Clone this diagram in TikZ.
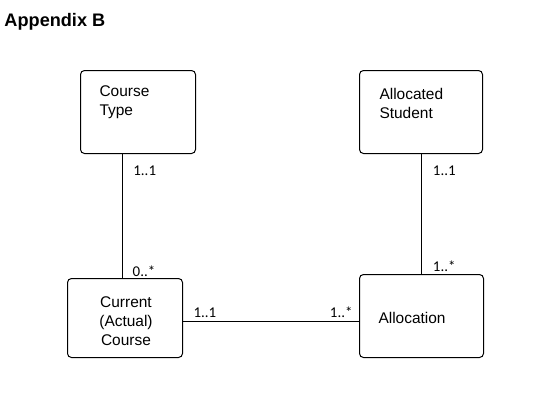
\documentclass[tikz,border=0pt]{standalone}
\usepackage{fontspec}
\setmainfont{Liberation Sans}
\newfontfamily\multfont{Carlito}
\usetikzlibrary{positioning}
\begin{document}
\begin{tikzpicture}[x=0.75pt, y=-0.75pt, line width=0.75pt,
entity/.style={draw, rounded corners=3pt, anchor=north west, inner sep=0pt},
entity text/.style={inner sep=0pt, font=\fontsize{11.6}{14.25}\selectfont},
mult/.style={inner sep=0pt, font=\multfont\fontsize{11.2}{12}\selectfont}]
\useasboundingbox (0,0) rectangle (538,401);
\node[anchor=base west, inner sep=0pt, font=\bfseries\fontsize{13.6}{16}\selectfont] (title) at (4,26) {Appendix B};
% entities
\node[entity, minimum width=86.25pt, minimum height=62.25pt] (coursetype) at (80,70) {};
\node[entity, minimum width=92.25pt, minimum height=62.25pt] (allocstudent) at (359,70) {};
\node[entity, minimum width=86.25pt, minimum height=59.25pt] (currentcourse) at (67,278) {};
\node[entity, minimum width=93pt, minimum height=62.25pt] (allocation) at (359,274) {};
\node[entity text, anchor=north west, align=left] (coursetypetext) at (99,85) {Course\\Type};
\node[entity text, anchor=north west, align=left] (allocstudenttext) at (379,88) {Allocated\\Student};
\node[entity text, anchor=north, align=center] (currentcoursetext) at (126,296) {Current\\(Actual)\\Course};
\node[entity text, anchor=west] (allocationtext) at (378,318) {Allocation};
% associations
\draw (coursetype.south -| currentcourse.93.6) -- (currentcourse.93.6)
  node[mult, pos=0, anchor=north west, xshift=7.5pt, yshift=-8.25pt] (m1) {1..1}
  node[mult, pos=1, anchor=south west, xshift=7pt, yshift=0.75pt] (m2) {0..*};
\draw (allocstudent.south) -- (allocstudent.south |- allocation.north)
  node[mult, pos=0, anchor=north west, xshift=8.6pt, yshift=-8.25pt] (m3) {1..1}
  node[mult, pos=1, anchor=south west, xshift=8.6pt, yshift=1.5pt] (m4) {1..*};
\draw (currentcourse.-3.5) -- (currentcourse.-3.5 -| allocation.west)
  node[mult, pos=0, anchor=south west, xshift=7.5pt, yshift=2.25pt] (m5) {1..1}
  node[mult, pos=1, anchor=south east, xshift=-4.5pt, yshift=2.25pt] (m6) {1..*};
\end{tikzpicture}
\end{document}
